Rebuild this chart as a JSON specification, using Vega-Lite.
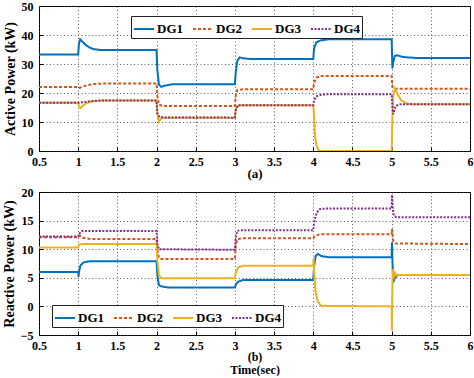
{
  "$schema": "https://vega.github.io/schema/vega-lite/v6.json",
  "background": "white",
  "padding": {"left": 1, "top": -1, "right": 2, "bottom": 0},
  "spacing": 41,
  "bounds": "flush",
  "datasets": {
    "active": [
      {"s":"DG1","t":0.5,"v":33.3},{"s":"DG1","t":1.0,"v":33.3},{"s":"DG1","t":1.01,"v":37.0},{"s":"DG1","t":1.025,"v":38.5},{"s":"DG1","t":1.05,"v":37.8},{"s":"DG1","t":1.1,"v":36.5},{"s":"DG1","t":1.15,"v":35.6},{"s":"DG1","t":1.2,"v":35.1},{"s":"DG1","t":1.3,"v":34.8},{"s":"DG1","t":2.0,"v":34.8},{"s":"DG1","t":2.01,"v":28.0},{"s":"DG1","t":2.03,"v":23.0},{"s":"DG1","t":2.06,"v":22.1},{"s":"DG1","t":2.1,"v":22.5},{"s":"DG1","t":2.2,"v":23.0},{"s":"DG1","t":3.0,"v":23.0},{"s":"DG1","t":3.01,"v":27.0},{"s":"DG1","t":3.03,"v":31.0},{"s":"DG1","t":3.06,"v":32.3},{"s":"DG1","t":3.1,"v":32.0},{"s":"DG1","t":3.2,"v":31.7},{"s":"DG1","t":4.0,"v":31.7},{"s":"DG1","t":4.01,"v":35.5},{"s":"DG1","t":4.04,"v":37.5},{"s":"DG1","t":4.1,"v":38.2},{"s":"DG1","t":4.2,"v":38.5},{"s":"DG1","t":5.0,"v":38.5},{"s":"DG1","t":5.005,"v":33.0},{"s":"DG1","t":5.01,"v":28.5},{"s":"DG1","t":5.02,"v":30.5},{"s":"DG1","t":5.04,"v":32.8},{"s":"DG1","t":5.07,"v":33.0},{"s":"DG1","t":5.15,"v":32.4},{"s":"DG1","t":5.3,"v":32.1},{"s":"DG1","t":6.0,"v":32.1},
      {"s":"DG2","t":0.5,"v":22.1},{"s":"DG2","t":1.0,"v":22.1},{"s":"DG2","t":1.02,"v":21.8},{"s":"DG2","t":1.1,"v":22.6},{"s":"DG2","t":1.2,"v":23.1},{"s":"DG2","t":1.35,"v":23.3},{"s":"DG2","t":2.0,"v":23.3},{"s":"DG2","t":2.01,"v":19.0},{"s":"DG2","t":2.03,"v":16.0},{"s":"DG2","t":2.08,"v":15.5},{"s":"DG2","t":3.0,"v":15.5},{"s":"DG2","t":3.01,"v":19.0},{"s":"DG2","t":3.03,"v":21.0},{"s":"DG2","t":3.1,"v":21.3},{"s":"DG2","t":4.0,"v":21.3},{"s":"DG2","t":4.01,"v":23.5},{"s":"DG2","t":4.04,"v":25.3},{"s":"DG2","t":4.1,"v":25.9},{"s":"DG2","t":5.0,"v":25.9},{"s":"DG2","t":5.01,"v":22.0},{"s":"DG2","t":5.03,"v":21.5},{"s":"DG2","t":6.0,"v":21.5},
      {"s":"DG3","t":0.5,"v":16.6},{"s":"DG3","t":1.0,"v":16.6},{"s":"DG3","t":1.01,"v":15.5},{"s":"DG3","t":1.03,"v":14.8},{"s":"DG3","t":1.06,"v":15.6},{"s":"DG3","t":1.1,"v":16.5},{"s":"DG3","t":1.2,"v":17.2},{"s":"DG3","t":1.3,"v":17.4},{"s":"DG3","t":2.0,"v":17.4},{"s":"DG3","t":2.01,"v":13.0},{"s":"DG3","t":2.03,"v":10.0},{"s":"DG3","t":2.06,"v":11.3},{"s":"DG3","t":2.1,"v":11.5},{"s":"DG3","t":3.0,"v":11.5},{"s":"DG3","t":3.01,"v":14.0},{"s":"DG3","t":3.03,"v":15.5},{"s":"DG3","t":3.08,"v":15.8},{"s":"DG3","t":4.0,"v":15.8},{"s":"DG3","t":4.01,"v":12.0},{"s":"DG3","t":4.02,"v":6.0},{"s":"DG3","t":4.04,"v":2.0},{"s":"DG3","t":4.07,"v":0.3},{"s":"DG3","t":4.1,"v":0.0},{"s":"DG3","t":5.0,"v":0.0},{"s":"DG3","t":5.01,"v":12.0},{"s":"DG3","t":5.02,"v":19.0},{"s":"DG3","t":5.04,"v":21.5},{"s":"DG3","t":5.07,"v":20.0},{"s":"DG3","t":5.12,"v":17.5},{"s":"DG3","t":5.2,"v":16.3},{"s":"DG3","t":5.3,"v":16.1},{"s":"DG3","t":6.0,"v":16.1},
      {"s":"DG4","t":0.5,"v":16.6},{"s":"DG4","t":1.0,"v":16.6},{"s":"DG4","t":1.05,"v":16.8},{"s":"DG4","t":1.15,"v":17.2},{"s":"DG4","t":1.3,"v":17.4},{"s":"DG4","t":2.0,"v":17.4},{"s":"DG4","t":2.01,"v":13.0},{"s":"DG4","t":2.04,"v":11.6},{"s":"DG4","t":3.0,"v":11.5},{"s":"DG4","t":3.01,"v":14.0},{"s":"DG4","t":3.04,"v":15.8},{"s":"DG4","t":4.0,"v":15.8},{"s":"DG4","t":4.01,"v":17.5},{"s":"DG4","t":4.04,"v":18.8},{"s":"DG4","t":4.1,"v":19.4},{"s":"DG4","t":4.2,"v":19.6},{"s":"DG4","t":5.0,"v":19.6},{"s":"DG4","t":5.01,"v":15.0},{"s":"DG4","t":5.02,"v":12.7},{"s":"DG4","t":5.05,"v":15.5},{"s":"DG4","t":5.1,"v":16.1},{"s":"DG4","t":6.0,"v":16.1}
    ],
    "reactive": [
      {"s":"DG1","t":0.5,"v":6.0},{"s":"DG1","t":1.0,"v":6.0},{"s":"DG1","t":1.005,"v":5.2},{"s":"DG1","t":1.01,"v":6.0},{"s":"DG1","t":1.03,"v":7.2},{"s":"DG1","t":1.07,"v":7.7},{"s":"DG1","t":1.15,"v":7.9},{"s":"DG1","t":2.0,"v":7.9},{"s":"DG1","t":2.01,"v":5.5},{"s":"DG1","t":2.03,"v":3.7},{"s":"DG1","t":2.06,"v":3.5},{"s":"DG1","t":2.15,"v":3.3},{"s":"DG1","t":3.0,"v":3.3},{"s":"DG1","t":3.01,"v":3.8},{"s":"DG1","t":3.04,"v":4.3},{"s":"DG1","t":3.1,"v":4.6},{"s":"DG1","t":4.0,"v":4.6},{"s":"DG1","t":4.01,"v":7.0},{"s":"DG1","t":4.03,"v":8.8},{"s":"DG1","t":4.06,"v":9.2},{"s":"DG1","t":4.1,"v":8.8},{"s":"DG1","t":4.2,"v":8.6},{"s":"DG1","t":5.0,"v":8.6},{"s":"DG1","t":5.005,"v":11.2},{"s":"DG1","t":5.01,"v":8.0},{"s":"DG1","t":5.02,"v":4.2},{"s":"DG1","t":5.04,"v":5.0},{"s":"DG1","t":5.08,"v":5.5},{"s":"DG1","t":6.0,"v":5.5},
      {"s":"DG2","t":0.5,"v":12.1},{"s":"DG2","t":1.0,"v":12.1},{"s":"DG2","t":1.02,"v":12.4},{"s":"DG2","t":1.06,"v":12.0},{"s":"DG2","t":1.15,"v":11.8},{"s":"DG2","t":2.0,"v":11.8},{"s":"DG2","t":2.01,"v":10.0},{"s":"DG2","t":2.03,"v":8.5},{"s":"DG2","t":2.06,"v":8.3},{"s":"DG2","t":3.0,"v":8.3},{"s":"DG2","t":3.01,"v":10.5},{"s":"DG2","t":3.03,"v":11.7},{"s":"DG2","t":3.08,"v":11.9},{"s":"DG2","t":4.0,"v":11.9},{"s":"DG2","t":4.02,"v":12.3},{"s":"DG2","t":4.08,"v":12.6},{"s":"DG2","t":5.0,"v":12.6},{"s":"DG2","t":5.005,"v":13.5},{"s":"DG2","t":5.02,"v":11.5},{"s":"DG2","t":5.05,"v":11.0},{"s":"DG2","t":6.0,"v":10.9},
      {"s":"DG3","t":0.5,"v":10.3},{"s":"DG3","t":1.0,"v":10.3},{"s":"DG3","t":1.01,"v":10.8},{"s":"DG3","t":1.05,"v":10.9},{"s":"DG3","t":2.0,"v":10.9},{"s":"DG3","t":2.01,"v":8.0},{"s":"DG3","t":2.03,"v":5.5},{"s":"DG3","t":2.06,"v":4.9},{"s":"DG3","t":3.0,"v":4.9},{"s":"DG3","t":3.01,"v":5.8},{"s":"DG3","t":3.04,"v":6.8},{"s":"DG3","t":3.1,"v":7.1},{"s":"DG3","t":4.0,"v":7.1},{"s":"DG3","t":4.005,"v":8.5},{"s":"DG3","t":4.01,"v":6.0},{"s":"DG3","t":4.03,"v":2.5},{"s":"DG3","t":4.06,"v":0.8},{"s":"DG3","t":4.1,"v":0.1},{"s":"DG3","t":5.0,"v":0.0},{"s":"DG3","t":5.003,"v":-4.2},{"s":"DG3","t":5.007,"v":2.0},{"s":"DG3","t":5.015,"v":6.5},{"s":"DG3","t":5.025,"v":4.8},{"s":"DG3","t":5.035,"v":6.0},{"s":"DG3","t":5.06,"v":5.4},{"s":"DG3","t":5.1,"v":5.5},{"s":"DG3","t":6.0,"v":5.5},
      {"s":"DG4","t":0.5,"v":12.2},{"s":"DG4","t":1.0,"v":12.2},{"s":"DG4","t":1.02,"v":12.8},{"s":"DG4","t":1.05,"v":13.2},{"s":"DG4","t":2.0,"v":13.2},{"s":"DG4","t":2.01,"v":11.0},{"s":"DG4","t":2.03,"v":10.0},{"s":"DG4","t":3.0,"v":9.9},{"s":"DG4","t":3.01,"v":12.0},{"s":"DG4","t":3.03,"v":13.2},{"s":"DG4","t":3.06,"v":13.3},{"s":"DG4","t":4.0,"v":13.3},{"s":"DG4","t":4.01,"v":14.5},{"s":"DG4","t":4.04,"v":16.3},{"s":"DG4","t":4.08,"v":17.0},{"s":"DG4","t":4.15,"v":17.1},{"s":"DG4","t":5.0,"v":17.1},{"s":"DG4","t":5.005,"v":19.5},{"s":"DG4","t":5.015,"v":17.0},{"s":"DG4","t":5.03,"v":15.8},{"s":"DG4","t":5.06,"v":15.6},{"s":"DG4","t":6.0,"v":15.6}
    ]
  },
  "vconcat": [
    {
      "width": 431,
      "height": 145,
      "data": {"name": "active"},
      "mark": {"type": "line", "strokeWidth": 2, "clip": true},
      "encoding": {
        "x": {"field": "t", "type": "quantitative", "scale": {"domain": [0.5, 6], "nice": false, "zero": false},
              "axis": {"values": [0.5,1,1.5,2,2.5,3,3.5,4,4.5,5,5.5,6], "format": "~g", "title": "(a)"}},
        "y": {"field": "v", "type": "quantitative", "scale": {"domain": [0, 50], "nice": false},
              "axis": {"values": [0,10,20,30,40,50], "title": "Active Power (kW)"}},
        "color": {"field": "s", "type": "nominal", "scale": {"domain": ["DG1","DG2","DG3","DG4"], "range": ["#0072BD","#D95319","#EDB120","#7E2F8E"]},
                  "legend": {"orient": "none", "legendX": 92, "legendY": 10, "direction": "horizontal", "columns": 4, "title": null}},
        "strokeDash": {"field": "s", "type": "nominal", "scale": {"domain": ["DG1","DG2","DG3","DG4"], "range": [[1,0],[3,2],[1,0],[2,1.5]]},
                  "legend": {"orient": "none", "legendX": 92, "legendY": 10, "direction": "horizontal", "columns": 4, "title": null}}
      }
    },
    {
      "width": 431,
      "height": 143,
      "data": {"name": "reactive"},
      "mark": {"type": "line", "strokeWidth": 2, "clip": true},
      "encoding": {
        "x": {"field": "t", "type": "quantitative", "scale": {"domain": [0.5, 6], "nice": false, "zero": false},
              "axis": {"values": [0.5,1,1.5,2,2.5,3,3.5,4,4.5,5,5.5,6], "format": "~g", "title": ["(b)", "Time(sec)"], "titleLineHeight": 13, "titleFontSize": 12, "titlePadding": 0}},
        "y": {"field": "v", "type": "quantitative", "scale": {"domain": [-5, 20], "nice": false, "zero": false},
              "axis": {"values": [-5,0,5,10,15,20], "title": "Reactive Power (kW)"}},
        "color": {"field": "s", "type": "nominal", "scale": {"domain": ["DG1","DG2","DG3","DG4"], "range": ["#0072BD","#D95319","#EDB120","#7E2F8E"]},
                  "legend": {"orient": "none", "legendX": 13, "legendY": 113, "direction": "horizontal", "columns": 4, "title": null}},
        "strokeDash": {"field": "s", "type": "nominal", "scale": {"domain": ["DG1","DG2","DG3","DG4"], "range": [[1,0],[3,2],[1,0],[2,1.5]]},
                  "legend": {"orient": "none", "legendX": 13, "legendY": 113, "direction": "horizontal", "columns": 4, "title": null}}
      }
    }
  ],
  "resolve": {
    "scale": {"color": "independent", "strokeDash": "independent"},
    "legend": {"color": "independent", "strokeDash": "independent"}
  },
  "config": {
    "view": {"stroke": "#000", "strokeWidth": 1},
    "axis": {
      "labelFont": "Liberation Serif", "labelFontWeight": "bold", "labelFontSize": 12, "labelColor": "#000", "labelFlush": false,
      "titleFont": "Liberation Serif", "titleFontWeight": "bold", "titleFontSize": 14, "titleColor": "#000",
      "domain": false, "tickColor": "#000", "tickSize": -4, "labelPadding": 9,
      "grid": true, "gridColor": "#333", "gridDash": [1, 2.5], "gridWidth": 1, "gridOpacity": 0.8
    },
    "axisX": {"titlePadding": 0, "titleFontSize": 13},
    "axisY": {"titlePadding": 4, "labelPadding": 10},
    "legend": {
      "labelFont": "Liberation Serif", "labelFontWeight": "bold", "labelFontSize": 13, "labelColor": "#000",
      "symbolType": "stroke", "symbolSize": 400, "symbolStrokeWidth": 2, "labelOffset": 2, "columnPadding": 6,
      "padding": 2, "strokeColor": "#222", "fillColor": "#fff", "symbolOpacity": 1, "rowPadding": 0
    }
  }
}
